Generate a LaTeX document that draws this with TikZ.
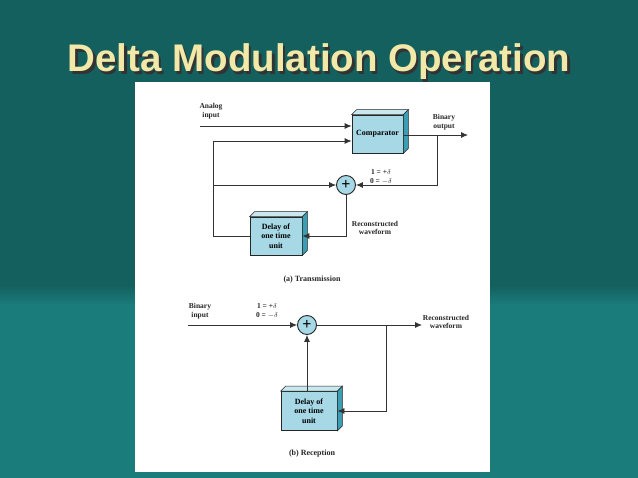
\documentclass[tikz,border=0pt]{standalone}
\usepackage{fontspec}
\setmainfont{Liberation Serif}
\newfontfamily\titlefont{Liberation Sans}
\usetikzlibrary{arrows.meta}
\definecolor{bgtop}{HTML}{14605F}
\definecolor{bgbot}{HTML}{1A7C7B}
\definecolor{boxfront}{HTML}{A6D8E6}
\definecolor{boxtop}{HTML}{C8E8F0}
\definecolor{boxside}{HTML}{3C9EB4}
\definecolor{titlecol}{HTML}{F2E8A8}
\begin{document}
\begin{tikzpicture}[x=1pt,y=-1pt,
  lbl/.style={font=\bfseries\fontsize{7.5}{8.5}\selectfont,align=center,text=black!85,inner sep=0},
  blk/.style={draw=black!85,line width=0.8pt,fill=boxfront,font=\bfseries\fontsize{8}{9.5}\selectfont,align=center,inner sep=0},
  sumc/.style={circle,draw=black!85,line width=0.9pt,fill=boxfront,minimum size=19pt,inner sep=0,font=\bfseries\fontsize{16}{16}\selectfont},
  ttl/.style={font=\titlefont\bfseries\fontsize{38.5}{40}\selectfont},
  wire/.style={line width=0.8pt,draw=black!80},
  arr/.style={wire,-{Latex[length=7pt,width=6pt]}}]
\useasboundingbox (0,0) rectangle (638,478);
\fill[bgtop] (0,0) rectangle (638,300);
\fill[bgbot] (0,295) rectangle (638,478);
\shade[top color=bgtop,bottom color=bgbot] (0,285) rectangle (638,305);
\fill[white] (135,82) rectangle (490,472);
\node[ttl,text=black!80] (shadow) at (321.5,64.5) {Delta Modulation Operation};
\node[ttl,text=titlecol] (title) at (319,62) {Delta Modulation Operation};
% boxes
\newcommand{\threed}[1]{%
  \fill[boxtop,draw=black!85,line width=0.6pt] (#1.north west) -- ++(5,-5) -- ([shift={(5,-5)}]#1.north east) -- (#1.north east) -- cycle;
  \fill[boxside,draw=black!85,line width=0.6pt] (#1.north east) -- ++(5,-5) -- ([shift={(5,-5)}]#1.south east) -- (#1.south east) -- cycle;}
\node[blk,minimum width=51pt,minimum height=38pt] (comp) at (377.5,134) {Comparator};
\threed{comp}
\node[blk,minimum width=52pt,minimum height=38pt] (del1) at (276,236) {Delay of\\one time\\unit};
\threed{del1}
\node[sumc] (s1) at (346,185) {+};
\node[blk,minimum width=56pt,minimum height=39pt] (del2) at (309,411) {Delay of\\one time\\unit};
\threed{del2}
\node[sumc] (s2) at (307,325) {+};
% top coordinates
\coordinate (ain) at (200,126);
\coordinate (bout) at (468,135);
\coordinate (br1) at (437,135);
\coordinate (lt) at (213,141);
\coordinate (lm) at (213,185);
\coordinate (lb) at (213,236);
\draw[arr] (ain) -- (ain -| comp.west);
\draw[arr] (lb) -- (lt) -- (lt -| comp.west);
\draw[arr] (comp.east |- bout) -- (bout);
\draw[arr] (br1) |- (s1.east);
\draw[arr] (lm) -- (s1.west);
\draw[arr] (s1.south) |- (del1.east);
\draw[wire] (del1.west) -- (lb);
\node[lbl] (t1) at (211,111) {Analog\\input};
\node[lbl] (t2) at (444,122) {Binary\\output};
\node[lbl] (t3) at (381,177) {1 = +$\delta$\\0 = $-\delta$};
\node[lbl] (t4) at (375,228) {Reconstructed\\waveform};
\node[lbl,font=\bfseries\fontsize{8}{9}\selectfont] (t5) at (312,280) {(a) Transmission};
% bottom
\coordinate (bin) at (188,325);
\coordinate (rout) at (422,325);
\coordinate (br2) at (386,325);
\draw[arr] (bin) -- (s2.west);
\draw[arr] (s2.east) -- (rout);
\draw[arr] (br2) |- (del2.east);
\draw[arr] (del2.north -| s2) -- (s2.south);
\node[lbl] (u1) at (200,311) {Binary\\input};
\node[lbl] (u2) at (267,311) {1 = +$\delta$\\0 = $-\delta$};
\node[lbl] (u3) at (446,322) {Reconstructed\\waveform};
\node[lbl,font=\bfseries\fontsize{8}{9}\selectfont] (u4) at (312,454) {(b) Reception};
\end{tikzpicture}
\end{document}
